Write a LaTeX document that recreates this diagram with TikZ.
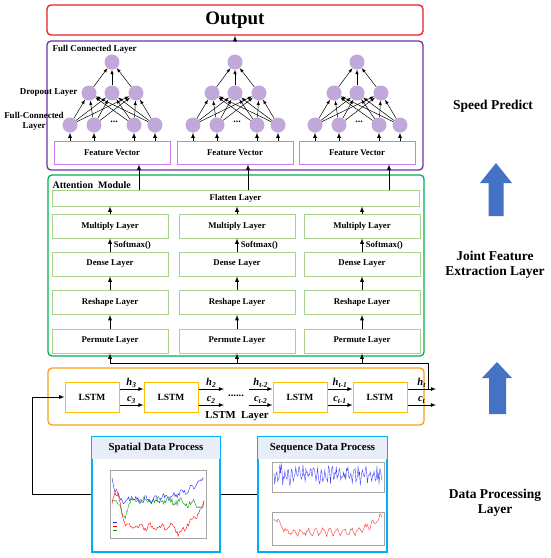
\documentclass[tikz,border=0pt]{standalone}
\usepackage{fontspec}
\setmainfont{Liberation Serif}
\usetikzlibrary{arrows.meta}
\definecolor{outred}{RGB}{235,28,36}
\definecolor{fcpurple}{RGB}{112,48,160}
\definecolor{fvpink}{RGB}{210,120,240}
\definecolor{neuronfill}{RGB}{193,168,218}
\definecolor{attgreen}{RGB}{0,176,80}
\definecolor{boxgreen}{RGB}{169,209,142}
\definecolor{lstmorange}{RGB}{250,160,20}
\definecolor{lstmgold}{RGB}{255,192,0}
\definecolor{datablue}{RGB}{0,176,240}
\definecolor{bandblue}{RGB}{232,238,248}
\definecolor{bigarrow}{RGB}{68,114,196}
\tikzstyle{framerect} = [rectangle, rounded corners=4pt,
line width=1.3pt,
inner sep=0pt]
\tikzstyle{layerrect} = [rectangle,
minimum width=116pt,
minimum height=24pt,
inner sep=0pt,
draw=boxgreen, line width=0.9pt,
font=\bfseries\fontsize{8.8}{9}\selectfont]
\tikzstyle{fvrect} = [rectangle,
minimum width=116pt,
minimum height=23pt,
inner sep=0pt,
draw=fvpink, line width=0.9pt,
font=\bfseries\fontsize{8.8}{9}\selectfont]
\tikzstyle{lstmrect} = [rectangle,
minimum width=54pt,
minimum height=30pt,
inner sep=0pt,
draw=lstmgold, line width=1pt,
font=\bfseries\fontsize{9.5}{10}\selectfont]
\tikzstyle{neuron} = [circle, fill=neuronfill, minimum size=15pt, inner sep=0pt]
\tikzstyle{datarect} = [rectangle,
minimum width=128pt,
minimum height=115pt,
inner sep=0pt,
draw=datablue, line width=1.3pt]
\tikzstyle{sidelabel} = [align=center, font=\bfseries\fontsize{13.5}{15}\selectfont]
\newcommand{\hc}[2]{\textbf{\textit{#1}}\textsubscript{\textbf{\textit{#2}}}}

\begin{document}
\begin{tikzpicture}[x=1pt, y=-1pt, font=\bfseries]
		\useasboundingbox (0,0) rectangle (550,558);
		% frames
		\node (out) [framerect, draw=outred, minimum width=376pt, minimum height=30pt, font=\bfseries\fontsize{19}{20}\selectfont] at (235,20) {Output};
		\node (fcl) [framerect, draw=fcpurple, minimum width=376pt, minimum height=129pt] at (235,105.5) {};
		\node (att) [framerect, draw=attgreen, minimum width=376pt, minimum height=181pt] at (236,265.5) {};
		\node (lstmf) [framerect, draw=lstmorange, minimum width=376pt, minimum height=57pt] at (236,396.5) {};
		\node [anchor=west, font=\bfseries\fontsize{9}{9}\selectfont] at (49,49) {Full Connected Layer};
		\node [anchor=west, font=\bfseries\fontsize{10}{10}\selectfont] at (49,185) {Attention~~Module};
		\node [font=\bfseries\fontsize{10.7}{11}\selectfont] at (237,416) {LSTM~~Layer};
		\node [anchor=east, font=\bfseries\fontsize{9}{9}\selectfont] at (81,93) {Dropout Layer};
		\node [align=center, font=\bfseries\fontsize{9}{10}\selectfont] at (34,121) {Full-Connected\\Layer};
		
		\draw [-latex, line width=0.9pt] ([yshift=-2pt]fcl.north) -- (out.south);
		
		% full connected networks
		\foreach \cx [count=\i] in {112,235,357} {
			\node (t\i) [neuron] at (\cx,62) {};
			\node (d\i1) [neuron] at (\cx-23,93) {};
			\node (d\i2) [neuron] at (\cx,93) {};
			\node (d\i3) [neuron] at (\cx+24,93) {};
			\node (f\i1) [neuron] at (\cx-42,125) {};
			\node (f\i2) [neuron] at (\cx-18,125) {};
			\node at (\cx+2,122) {...};
			\node (f\i3) [neuron] at (\cx+22,125) {};
			\node (f\i4) [neuron] at (\cx+43,125) {};
			\node (fv\i) [fvrect] at (\cx,152.5) {Feature Vector};
			\foreach \a in {1,...,4} {
				\draw [-latex, line width=0.8pt] (fv\i.north -| f\i\a) -- (f\i\a);
				\foreach \b in {1,2,3}
					\draw [-latex, line width=0.5pt] (f\i\a) -- (d\i\b);
			}
			\foreach \b in {1,2,3}
				\draw [-latex, line width=0.5pt] (d\i\b) -- (t\i);
		}
		
		% attention module
		\node (flat) [layerrect, minimum width=367pt, minimum height=16pt] at (235.5,198) {Flatten Layer};
		\foreach \cx [count=\i] in {110,237,362} {
			\node (m\i) [layerrect] at (\cx,226) {Multiply Layer};
			\node (ds\i) [layerrect] at (\cx,264) {Dense Layer};
			\node (r\i) [layerrect] at (\cx,302.5) {Reshape Layer};
			\node (p\i) [layerrect] at (\cx,341) {Permute Layer};
			\draw [-latex, line width=0.9pt] (m\i) -- (flat.south -| m\i);
			\draw [-latex, line width=0.9pt] (ds\i) -- node [right, font=\bfseries\fontsize{8.8}{9}\selectfont] {Softmax()} (m\i);
			\draw [-latex, line width=0.9pt] (r\i) -- (ds\i);
			\draw [-latex, line width=0.9pt] (p\i) -- (r\i);
		}
		\draw [-latex, line width=0.9pt] ([xshift=27pt]fv1.south |- flat.north) -- ([xshift=27pt]fv1.south);
		\draw [-latex, line width=0.9pt] ([xshift=13pt]fv2.south |- flat.north) -- ([xshift=13pt]fv2.south);
		\draw [-latex, line width=0.9pt] ([xshift=32pt]fv3.south |- flat.north) -- ([xshift=32pt]fv3.south);
		
		% lstm layer
		\node (l1) [lstmrect] at (92,397) {LSTM};
		\node (l2) [lstmrect] at (171,397) {LSTM};
		\node (l3) [lstmrect] at (300,397) {LSTM};
		\node (l4) [lstmrect] at (380,397) {LSTM};
		\coordinate (h2e) at (224,389);
		\coordinate (c2e) at (224,405);
		\coordinate (hts) at (249,389);
		\coordinate (cts) at (249,405);
		\coordinate (hte) at (436,389);
		\coordinate (cte) at (436,405);
		\tikzset{every node/.style={font=\fontsize{10.5}{11}\selectfont}}
		\draw [-latex, line width=0.8pt] ([yshift=8pt]l1.east) -- node [above, inner sep=1pt] {\hc{h}{3}} ([yshift=8pt]l2.west);
		\draw [-latex, line width=0.8pt] ([yshift=-8pt]l1.east) -- node [above, inner sep=1pt] {\hc{c}{3}} ([yshift=-8pt]l2.west);
		\draw [-latex, line width=0.8pt] ([yshift=8pt]l2.east) -- node [above, inner sep=1pt] {\hc{h}{2}} (h2e);
		\draw [-latex, line width=0.8pt] ([yshift=-8pt]l2.east) -- node [above, inner sep=1pt] {\hc{c}{2}} (c2e);
		\node at (236,396) {\textbf{......}};
		\draw [-latex, line width=0.8pt] (hts) -- node [above, inner sep=1pt] {\hc{h}{t-2}} ([yshift=8pt]l3.west);
		\draw [-latex, line width=0.8pt] (cts) -- node [above, inner sep=1pt] {\hc{c}{t-2}} ([yshift=-8pt]l3.west);
		\draw [-latex, line width=0.8pt] ([yshift=8pt]l3.east) -- node [above, inner sep=1pt] {\hc{h}{t-1}} ([yshift=8pt]l4.west);
		\draw [-latex, line width=0.8pt] ([yshift=-8pt]l3.east) -- node [above, inner sep=1pt] {\hc{c}{t-1}} ([yshift=-8pt]l4.west);
		\draw [-latex, line width=0.8pt] ([yshift=8pt]l4.east) -- node [above, inner sep=1pt] {\hc{h}{t}} (hte);
		\draw [-latex, line width=0.8pt] ([yshift=-8pt]l4.east) -- node [above, inner sep=1pt] {\hc{c}{t}} (cte);
		\tikzset{every node/.style={}}
		
		% lstm output back to permute layers
		\coordinate (fb) at (428,389);
		\coordinate (split) at (428,363);
		\draw [line width=0.9pt] (fb) -- (split) -- (split -| p1.south);
		\foreach \i in {1,2,3}
			\draw [-latex, line width=0.9pt] (split -| p\i.south) -- (p\i.south);
		
		% data processing
		\node (sp) [datarect] at (156,494.5) {};
		\node (sq) [datarect, minimum width=129pt] at (322.5,494.5) {};
		\fill [bandblue] ([shift={(0.7pt,-0.7pt)}]sp.north west) rectangle ([shift={(-0.7pt,-23pt)}]sp.north east);
		\fill [bandblue] ([shift={(0.7pt,-0.7pt)}]sq.north west) rectangle ([shift={(-0.7pt,-23pt)}]sq.north east);
		\node [font=\bfseries\fontsize{10.8}{11}\selectfont] at ([yshift=-12pt]sp.north) {Spatial Data Process};
		\node [font=\bfseries\fontsize{10.8}{11}\selectfont] at ([yshift=-12pt]sq.north) {Sequence Data Process};
		\coordinate (inl) at (32,494.5);
		\draw [-latex, line width=0.9pt] (sp.west) -- (inl) |- (l1.west);
		\draw [line width=0.9pt] (sp.east) -- (sq.west);
		
		% spatial chart
		\pgfmathsetseed{11}
		\draw [gray!70, line width=0.3pt] (110,470) rectangle (206,538);
		\draw [green!60!black, line width=0.4pt] plot [domain=112:204, samples=90] (\x, {500 + 18*exp(-min(((\x-124)/4)^2,30)) + 6*((\x-112)/92)^3 + 2*sin((\x-112)*30) + 3*rand});
		\draw [blue!85, line width=0.4pt] plot [domain=112:204, samples=90] (\x, {500 - 24*exp(-min((\x-112)/3,30)) - 22*((\x-112)/92)^4 + 2*sin((\x-112)*40) + 2.5*rand});
		\draw [red, line width=0.4pt] plot [domain=112:204, samples=90] (\x, {527 - 37*exp(-min(((\x-116)/6)^2,30)) + 7*exp(-min(((\x-180)/5)^2,30)) - 24*(max(\x-178,0)/26)^2 + 2*sin((\x-112)*35) + 2.5*rand});
		\draw [blue!85, line width=0.6pt] (113,522) -- (117,522);
		\draw [red, line width=0.6pt] (113,526) -- (117,526);
		\draw [green!60!black, line width=0.6pt] (113,530) -- (117,530);
		
		% sequence charts
		\draw [gray!70, line width=0.3pt] (272,462) rectangle (384,492);
		\draw [blue!75, line width=0.4pt] plot [domain=274:382, samples=150] (\x, {475 + 5*sin((\x-274)*97) + 6*rand + 8*exp(-min(((\x-282)/4)^2,30))*rand});
		\draw [gray!70, line width=0.3pt] (272,512) rectangle (384,545);
		\draw [red!80, line width=0.4pt] plot [domain=274:382, samples=110] (\x, {532 - 14*exp(-min(((\x-274)/8)^2,30)) - 16*(max(\x-348,0)/34)^2 + 2.5*sin((\x-274)*50) + 2*rand});
		
		% right side
		\node [sidelabel] at (493,106) {Speed Predict};
		\node [sidelabel] at (495,264.5) {Joint Feature\\Extraction Layer};
		\node [sidelabel] at (495,502.5) {Data Processing\\Layer};
		\fill [bigarrow] (496,163) -- (512,183) -- (503.5,183) -- (503.5,216) -- (488.5,216) -- (488.5,183) -- (480,183) -- cycle;
		\fill [bigarrow] (497,362) -- (512,378) -- (506,378) -- (506,414) -- (489,414) -- (489,378) -- (482,378) -- cycle;
	\end{tikzpicture}
\end{document}
